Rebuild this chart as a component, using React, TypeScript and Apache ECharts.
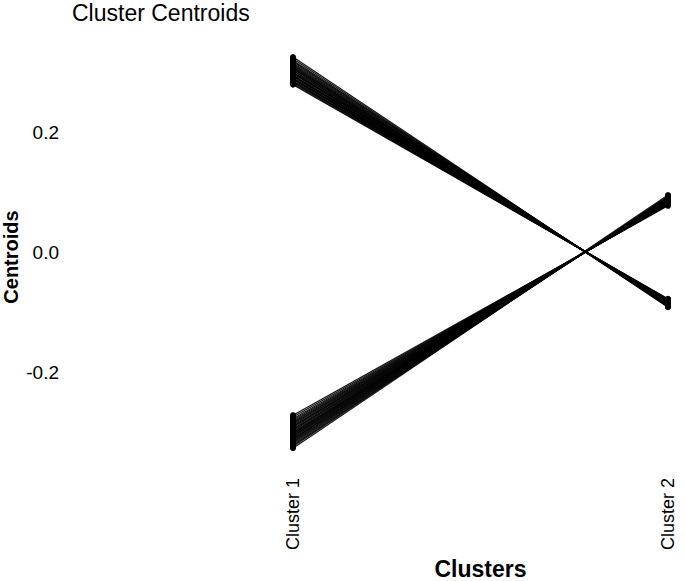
import React, { useEffect, useRef } from "react";
import * as echarts from "echarts";

const categories = ["Cluster 1", "Cluster 2"];

// Centroid values of features that load on cluster 1 (upper bundle)
const upperC1 = [0.325, 0.322, 0.319, 0.317, 0.315, 0.313, 0.311, 0.309, 0.308, 0.306, 0.305, 0.303, 0.302, 0.300, 0.299, 0.298, 0.297, 0.295, 0.294, 0.293, 0.292, 0.290, 0.289, 0.288, 0.287, 0.285, 0.284, 0.283, 0.281, 0.279];
const upperC2 = [-0.092, -0.091, -0.090, -0.089, -0.089, -0.088, -0.088, -0.087, -0.087, -0.086, -0.086, -0.085, -0.085, -0.084, -0.084, -0.084, -0.083, -0.083, -0.083, -0.082, -0.082, -0.081, -0.081, -0.081, -0.080, -0.080, -0.080, -0.079, -0.079, -0.078];

// Lower bundle
const lowerC1 = [-0.272, -0.275, -0.278, -0.280, -0.282, -0.284, -0.286, -0.288, -0.290, -0.291, -0.293, -0.295, -0.296, -0.298, -0.300, -0.301, -0.303, -0.304, -0.306, -0.307, -0.309, -0.311, -0.312, -0.314, -0.316, -0.318, -0.320, -0.322, -0.324, -0.327];
const lowerC2 = [0.077, 0.078, 0.079, 0.079, 0.080, 0.080, 0.081, 0.081, 0.082, 0.082, 0.083, 0.083, 0.084, 0.084, 0.085, 0.085, 0.086, 0.086, 0.087, 0.087, 0.088, 0.088, 0.089, 0.089, 0.090, 0.090, 0.091, 0.092, 0.093, 0.095];

const yTicks = [-0.2, 0.0, 0.2];

const FONT = "Liberation Sans, Arial, Helvetica, sans-serif";

export default function App() {
  const ref = useRef<HTMLDivElement>(null);
  useEffect(() => {
    if (!ref.current) return;
    const chart = echarts.init(ref.current, null, { renderer: "svg" });
    const pairs: [number, number][] = [];
    upperC1.forEach((v, i) => pairs.push([v, upperC2[i]]));
    lowerC1.forEach((v, i) => pairs.push([v, lowerC2[i]]));
    const series = pairs.map((p) => ({
      type: "line",
      data: p,
      symbol: "circle",
      symbolSize: 6,
      showSymbol: true,
      silent: true,
      itemStyle: { color: "#000", borderWidth: 0 },
      lineStyle: { color: "#000", width: 1.3, opacity: 0.9 },
    }));
    chart.setOption({
      animation: false,
      backgroundColor: "#fff",
      title: {
        text: "Cluster Centroids",
        left: 67,
        top: -4,
        textStyle: { fontFamily: FONT, fontSize: 23, fontWeight: "normal", color: "#000" },
      },
      grid: {
        left: 293,
        right: 17,
        top: 12,
        bottom: 89,
        containLabel: false,
        outerBoundsMode: "none",
      },
      graphic: [
        {
          type: "text",
          x: 11,
          y: 257,
          rotation: Math.PI / 2,
          style: {
            text: "Centroids",
            fontFamily: FONT,
            fontSize: 20,
            fontWeight: "bold",
            fill: "#000",
            align: "center",
            verticalAlign: "middle",
          },
        },
      ],
      xAxis: {
        type: "category",
        data: categories,
        boundaryGap: false,
        offset: -18,
        axisLine: { show: false },
        axisTick: { show: false },
        splitLine: { show: false },
        axisLabel: { rotate: 90, margin: 4, fontFamily: FONT, fontSize: 18, color: "#000" },
        name: "Clusters",
        nameLocation: "middle",
        nameGap: 74,
        nameTextStyle: { fontFamily: FONT, fontSize: 23, fontWeight: "bold", color: "#000" },
      },
      yAxis: {
        type: "value",
        min: -0.4,
        max: 0.4,
        interval: 0.2,
        axisLine: { show: false },
        axisTick: { show: false },
        splitLine: { show: false },
        axisLabel: {
          margin: 234,
          fontFamily: FONT,
          fontSize: 19,
          color: "#000",
          formatter: (v: number) => (yTicks.some((t) => Math.abs(t - v) < 1e-9) ? v.toFixed(1) : ""),
        },
      },
      series,
    });
    return () => chart.dispose();
  }, []);
  return (
    <div
      ref={ref}
      style={{ position: "fixed", left: 0, top: 0, width: 685, height: 581 }}
    />
  );
}
